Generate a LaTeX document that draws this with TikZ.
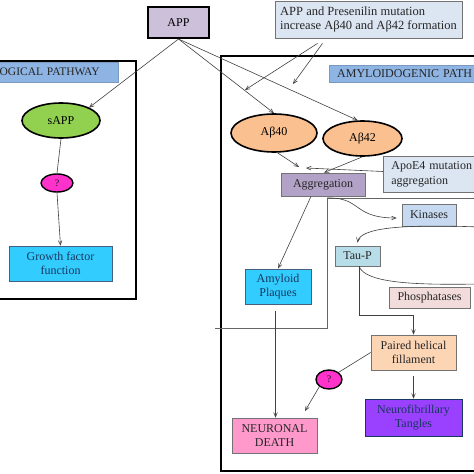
\documentclass[tikz,border=0pt]{standalone}
\usepackage{fontspec}
\setmainfont{Liberation Serif}
\usetikzlibrary{shapes.geometric, arrows}
\definecolor{appfill}{HTML}{CCC0DA}
\definecolor{bannerfill}{HTML}{8EB4E3}
\definecolor{sappfill}{HTML}{92D050}
\definecolor{qfill}{HTML}{FF33CC}
\definecolor{cyanfill}{HTML}{33CCFF}
\definecolor{notefill}{HTML}{DCE6F2}
\definecolor{abfill}{HTML}{FAC090}
\definecolor{aggfill}{HTML}{B3A2C7}
\definecolor{kinfill}{HTML}{C6D9F1}
\definecolor{taufill}{HTML}{B7DEE8}
\definecolor{phosfill}{HTML}{F2DCDB}
\definecolor{phffill}{HTML}{FCD5B5}
\definecolor{nftfill}{HTML}{9A40FF}
\definecolor{deathfill}{HTML}{FF99CC}
\definecolor{navytext}{HTML}{17375E}
\tikzstyle{panel} = [line width=2pt, draw=black]
\tikzstyle{banner} = [rectangle, minimum height=20pt, draw=bannerfill!85!black, fill=bannerfill, text=black!85]
\tikzstyle{appbox} = [rectangle, line width=2pt, draw=black, fill=appfill, text centered]
\tikzstyle{blob} = [ellipse, line width=1.6pt, draw=black, inner sep=0pt, text centered]
\tikzstyle{query} = [ellipse, line width=1.4pt, draw=black, fill=qfill, inner sep=0pt, font=\fontsize{10}{11}\selectfont, text=black!90]
\tikzstyle{box} = [rectangle, line width=0.8pt, draw=black!55, align=center, inner sep=2pt, text=black!85]
\tikzstyle{cyanbox} = [box, draw=navytext!80, fill=cyanfill, text=navytext]
\tikzstyle{arrow} = [->, >=angle 45, draw=black!75, line width=0.6pt]
\tikzstyle{line} = [draw=black!75, line width=0.6pt]

\begin{document}
\begin{tikzpicture}[x=1pt, y=-1pt, font=\fontsize{12}{14.5}\selectfont]
	\clip (0,0) rectangle (474,474);
	% the two pathway frames
	\draw [panel] (-10,61) rectangle (136,299);
	\draw [panel] (221,56) rectangle (490,471);
	\draw [line, draw=black!60] (490,198) -- (327,198) -- (327,328) -- (215,328);
	\coordinate (k0) at (327,198);

	\node (app) [appbox, minimum width=61pt, minimum height=31pt] at (178.5,22.5) {APP};
	\node (mut) [box, fill=notefill, align=left, minimum width=187pt, minimum height=37pt, font=\fontsize{12.5}{14.5}\selectfont] at (368.5,19.5) {APP and Presenilin mutation\\increase Aβ40 and Aβ42 formation};
	\node (lban) [banner, anchor=east, text width=110pt, inner xsep=18pt, align=right, font=\fontsize{11.5}{13}\selectfont] at (118,72) {OGICAL PATHWAY};
	\node (rban) [banner, anchor=west, text width=140pt, inner xsep=8pt, align=left, minimum height=17pt, inner ysep=1pt] at (329,73.5) {AMYLOIDOGENIC PATH};

	% physiological side
	\node (sapp) [blob, fill=sappfill, minimum width=78pt, minimum height=35pt] at (61,120.5) {sAPP};
	\node (q1) [query, minimum width=32pt, minimum height=18pt] at (57,183) {?};
	\node (growth) [cyanbox, minimum width=103pt, minimum height=35pt] at (60.5,263.5) {Growth factor\\ function};

	% amyloidogenic side
	\node (ab40) [blob, fill=abfill, minimum width=86pt, minimum height=38pt] at (274,133) {Aβ40};
	\node (ab42) [blob, fill=abfill, minimum width=79pt, minimum height=35pt] at (362.5,138.5) {Aβ42};
	\node (agg) [box, fill=aggfill, minimum width=84pt, minimum height=23pt] at (323,184.5) {Aggregation};
	\node (apoe) [box, fill=notefill, anchor=west, text width=85pt, inner xsep=8pt, align=left, minimum height=36pt] at (383,174.5) {ApoE4 mutation\\aggregation};
	\node (kin) [box, fill=kinfill, minimum width=54pt, minimum height=22pt] at (429,215) {Kinases};
	\node (taup) [box, fill=taufill, minimum width=45pt, minimum height=20pt] at (357.5,256) {Tau-P};
	\node (phos) [box, fill=phosfill, minimum width=81pt, minimum height=21pt] at (429.5,297.5) {Phosphatases};
	\node (amy) [cyanbox, minimum width=66pt, minimum height=35pt] at (278,286.5) {Amyloid\\Plaques};
	\node (phf) [box, fill=phffill, minimum width=85pt, minimum height=35pt] at (413.5,352.5) {Paired helical\\ fillament};
	\node (nft) [box, fill=nftfill, draw=navytext, text=navytext, minimum width=97pt, minimum height=37pt] at (413.5,417.5) {Neurofibrillary\\ Tangles};
	\node (q2) [query, minimum width=26pt, minimum height=19pt] at (329,379.5) {?};
	\node (death) [box, fill=deathfill, minimum width=85pt, minimum height=35pt] at (274.5,435.5) {NEURONAL\\DEATH};

	\coordinate (m1) at (245,90);
	\coordinate (m2) at (293,84);
	\coordinate (a1) at (299,167);
	\coordinate (a2) at (306,168);
	\coordinate (c1) at (480,227);
	\coordinate (c2) at (480,284);
	\coordinate (d1) at (305,411);

	\draw [arrow] (app.south) -- (sapp.north east);
	\draw [arrow] (app.south) -- (ab40.north);
	\draw [arrow] (app.south) -- (ab42.105);
	\draw [arrow] ([xshift=-51pt,yshift=-5pt]mut.south) -- (m1);
	\draw [arrow] ([xshift=-46pt,yshift=-5pt]mut.south) -- (m2);
	\draw [line] (sapp.south) -- (q1.north);
	\draw [arrow] (q1.south) -- (growth.north);
	\draw [arrow] (ab40.-80) -- (a1);
	\draw [arrow] (ab42.south) -- ([xshift=1pt]agg.north);
	\draw [arrow] ([yshift=3pt]apoe.west) -- (a2);
	\draw [arrow] ([xshift=-12pt]agg.south) -- (amy.north);
	\draw [arrow] (k0) .. controls (362,197) and (352,218) .. ([xshift=-5pt,yshift=-3pt]kin.west);
	\draw [arrow] (c1) .. controls (400,224) and (360,228) .. ([yshift=3pt]taup.north);
	\draw [line] ([xshift=1.5pt]taup.south) .. controls (366,284) and (420,285) .. (c2);
	\draw [arrow] ([xshift=1.5pt]taup.south) -- ++(0,49) -| (phf.north);
	\draw [arrow] ([yshift=-6pt]phf.south) -- (nft.north);
	\draw [line] (phf.west) -- (q2.north east);
	\draw [arrow] (q2.south west) -- (d1);
	\draw [arrow] ([xshift=-2.5pt,yshift=-7pt]amy.south) -- ([xshift=-2.5pt]amy.south |- death.north);
\end{tikzpicture}
\end{document}
